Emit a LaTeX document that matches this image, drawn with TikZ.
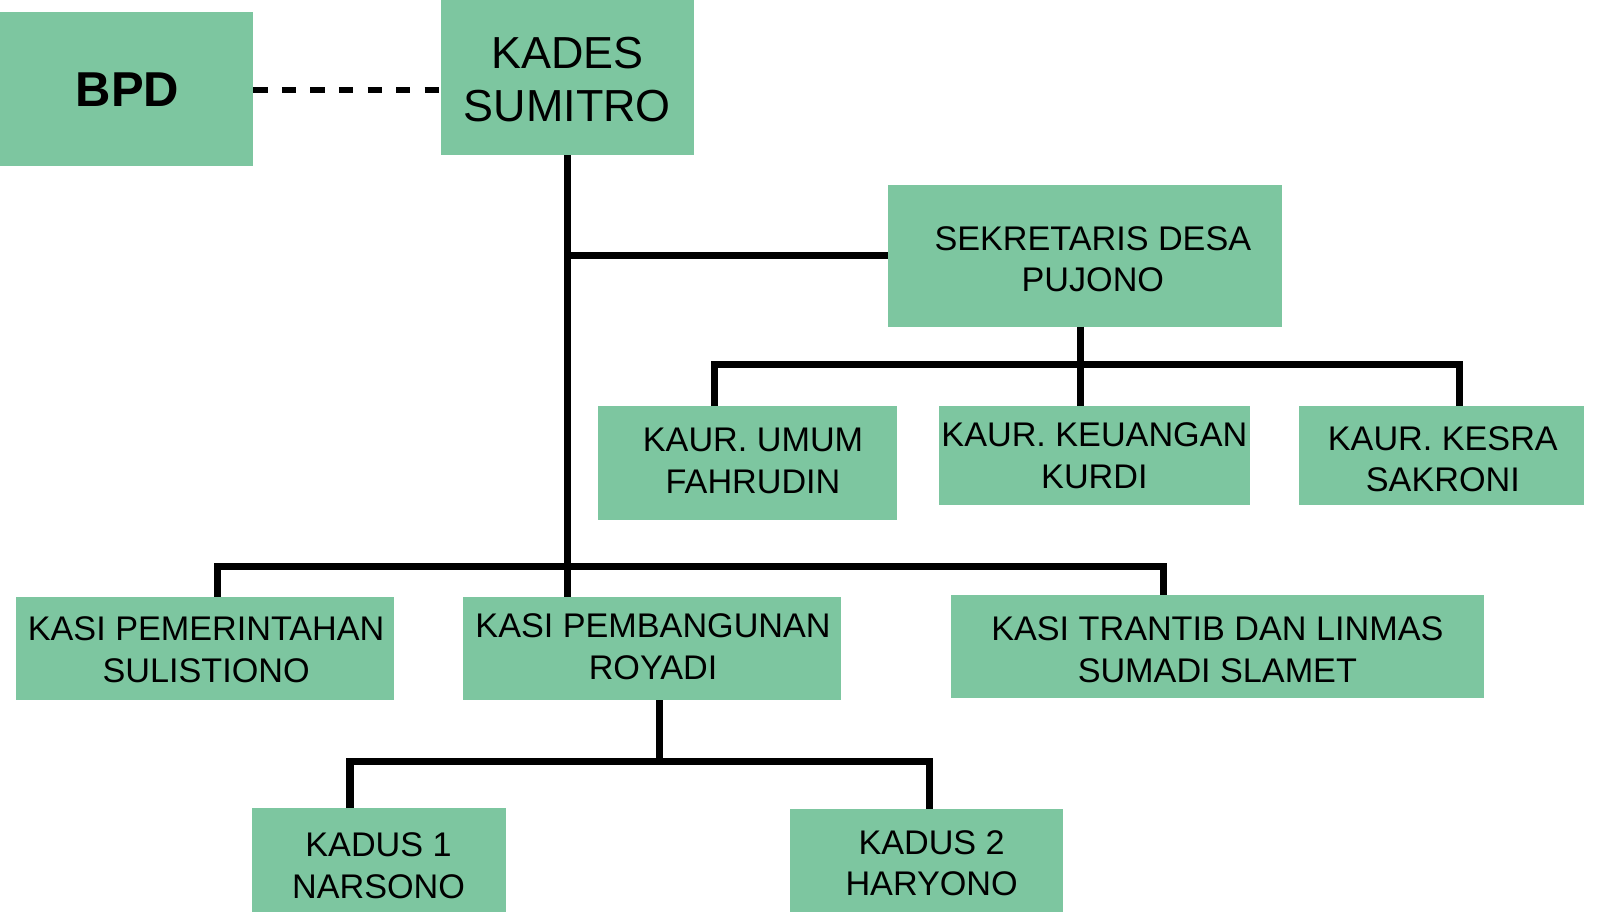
\documentclass[tikz,border=0pt]{standalone}
\usepackage{fontspec}
\setmainfont{Liberation Sans}
\begin{document}
\begin{tikzpicture}[x=1pt,y=-1pt,
  box/.style={fill=boxg,draw=none,align=center,inner sep=0pt,font=\fontsize{33.5}{41}\selectfont},
  ln/.style={line width=7pt,black}]
\definecolor{boxg}{HTML}{7DC6A0}
\useasboundingbox (0,0) rectangle (1568,896);
\newcommand\bx[6]{\node[box,minimum width=#4-#2,minimum height=#5-#3,#6] (#1) at ({(#2+#4)/2},{(#3+#5)/2}) {};}
\bx{bpd}{0}{12}{248}{163}{}
\bx{kades}{432}{0}{680}{152}{}
\bx{sek}{870}{181}{1256}{320}{}
\bx{ku}{586}{398}{879}{510}{}
\bx{kk}{920}{398}{1225}{495}{}
\bx{ks}{1273}{398}{1552}{495}{}
\bx{kp}{16}{585}{386}{686}{}
\bx{kb}{454}{585}{824}{686}{}
\bx{kt}{932}{583}{1454}{684}{}
\bx{d1}{247}{792}{496}{894}{}
\bx{d2}{774}{793}{1042}{894}{}
\node[font=\fontsize{48}{50}\selectfont\bfseries] at (125,88) {BPD};
\node[align=center,font=\fontsize{44}{52}\selectfont] at (556,78) {KADES\\SUMITRO};
\node[box,fill=none] at (1071,254) {SEKRETARIS DESA\\PUJONO};
\node[box,fill=none] at (738,452) {KAUR. UMUM\\FAHRUDIN};
\node[box,fill=none] at (kk) {KAUR. KEUANGAN\\KURDI};
\node[box,fill=none] at (1414,450) {KAUR. KESRA\\SAKRONI};
\node[box,fill=none] at (202,637) {KASI PEMERINTAHAN\\SULISTIONO};
\node[box,fill=none] at (640,634) {KASI PEMBANGUNAN\\ROYADI};
\node[box,fill=none] at (1193,637) {KASI TRANTIB DAN LINMAS\\SUMADI SLAMET};
\node[box,fill=none] at (371,848) {KADUS 1\\NARSONO};
\node[box,fill=none] at (913,846) {KADUS 2\\HARYONO};
\draw[line width=6pt,dash pattern=on 14pt off 14pt] (bpd.east |- 0,88) -- (kades.west |- 0,88);
\coordinate (j1) at (556,250);
\coordinate (j2) at (556,555);
\draw[ln] (kades.south -| 556,0) -- (j2);
\draw[ln] (j1) -- (sek.west |- j1);
\draw[ln] (sek.south -| 1059,0) -- (1059,357);
\draw[ln] (700,398) -- (700,357) -- (1430,357) -- (1430,398);
\draw[ln] (1059,357) -- (1059,398);
\draw[ln] (213,585) -- (213,555) -- (1140,555) -- (1140,583);
\draw[ln] (556,555) -- (556,585);
\draw[ln] (646,686) -- (646,746);
\draw[ln] (343,792) -- (343,746) -- (911,746) -- (911,793);
\end{tikzpicture}
\end{document}
